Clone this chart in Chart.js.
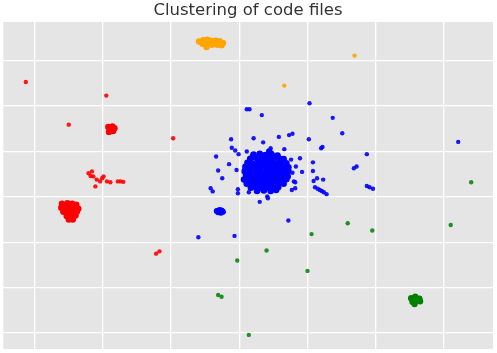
<!DOCTYPE html>
<html>
<head>
<meta charset="utf-8">
<script src="https://cdn.jsdelivr.net/npm/chart.js@4/dist/chart.umd.min.js"></script>
<style>
html,body{margin:0;padding:0;background:#fff;}
#wrap{width:497px;height:353px;}
</style>
</head>
<body>
<div id="wrap"><canvas id="scatter" width="497" height="353"></canvas></div>
<script>
/* ===== DATA (t-SNE style coordinates) ===== */
const titleText = "Clustering of code files";
const gridTicks = [-30,-20,-10,0,10,20,30];

// dense blue core
const blueCore = [
[2.1,9.3],[3.0,9.5],[3.8,9.2],[4.7,9.4],[5.6,9.1],[4.4,10.0],
[1.6,8.4],[2.4,8.6],[3.3,8.3],[4.1,8.5],[4.9,8.2],[5.8,8.5],[6.5,8.3],
[1.2,7.5],[2.0,7.3],[2.8,7.6],[3.6,7.4],[4.4,7.6],[5.2,7.4],[6.0,7.6],[6.9,7.4],
[0.9,6.6],[1.7,6.7],[2.5,6.5],[3.3,6.7],[4.1,6.5],[4.9,6.6],[5.7,6.5],[6.5,6.7],[7.2,6.5],
[0.8,5.6],[1.6,5.5],[2.4,5.7],[3.2,5.5],[4.0,5.6],[4.8,5.7],[5.6,5.5],[6.4,5.6],[7.2,5.7],
[1.0,4.7],[1.8,4.6],[2.6,4.8],[3.4,4.6],[4.2,4.7],[5.0,4.8],[5.8,4.6],[6.6,4.7],[7.1,4.5],
[0.7,3.8],[1.5,3.7],[2.3,3.9],[3.1,3.7],[3.9,3.8],[4.7,3.9],[5.5,3.7],[6.3,3.8],[6.9,3.9],
[1.1,2.9],[1.9,3.0],[2.7,2.8],[3.5,3.0],[4.3,2.9],[5.1,2.8],[5.9,3.0],[6.5,2.9],
[1.7,2.0],[2.5,2.1],[3.3,1.9],[4.1,2.1],[4.9,2.0],[5.7,2.1],
[2.6,1.3],[3.6,1.4],[4.6,1.3],[5.4,1.5],
[2.0,8.9],[3.7,8.9],[5.3,8.8],[1.4,6.1],[3.0,6.1],[4.5,6.1],[6.1,6.1],[6.9,6.0],
[1.2,4.2],[2.9,4.2],[4.6,4.2],[6.2,4.2],[2.2,2.5],[3.9,2.5],[5.4,2.5]
];

// blue points around the core
const blueSpread = [
[1.1,19.3],[1.5,19.3],[3.3,18.0],[-1.2,12.7],[2.1,12.9],[5.8,13.2],[7.3,13.6],[7.8,13.9],
[3.5,12.0],[-1.1,10.8],[-0.6,10.2],[-0.1,9.4],[-3.4,8.9],[1.1,10.0],[4.6,10.7],[6.6,10.5],
[-1.5,7.2],[-3.1,5.8],[-2.5,4.1],[-4.2,1.9],[-3.9,1.2],[-0.2,1.7],[-0.2,0.8],[1.4,1.0],
[4.1,0.1],[4.2,-0.3],[3.0,-1.1],[7.6,8.2],[8.3,6.7],[8.9,8.5],[9.2,5.5],[7.8,5.3],
[8.0,3.4],[8.2,3.2],[8.2,1.9],[7.7,1.5],[-0.4,5.9],[0.9,4.5],
[10.3,20.6],[13.7,17.4],[15.1,14.0],[10.2,12.7],[12.0,10.7],[12.2,11.0],[18.7,9.4],
[10.8,7.6],[16.8,6.3],[17.2,6.7],[10.8,5.7],[11.4,4.1],[10.9,3.5],[12.3,3.8],
[11.1,2.1],[11.5,1.8],[11.8,1.5],[12.1,1.3],[12.4,1.0],[12.8,0.6],
[18.7,2.4],[19.1,2.1],[19.6,1.8],[32.1,12.1],
[7.2,-5.2],[-6.0,-8.9],[-0.7,-8.6]
];

// small solid blue clump below the core
const blueClump = [
[-3.3,-3.1],[-2.9,-2.9],[-2.6,-3.0],[-2.4,-3.3],[-3.1,-3.4],[-2.7,-3.5]
];

const redPoints = [
[-31.3,25.3],[-19.5,22.3],[-25.0,15.9],[-9.7,12.9],
[-22.1,5.2],[-21.6,5.6],[-21.8,4.6],[-21.4,4.5],[-20.9,3.8],[-20.1,4.1],[-19.9,4.5],
[-20.4,3.4],[-19.4,3.4],[-18.9,3.2],[-21.1,2.3],[-17.8,3.4],[-17.4,3.4],[-17.0,3.3],
[-12.2,-12.5],[-11.7,-12.0]
];

// solid red clumps
const redClumps = [
[-19.2,15.4],[-18.6,15.5],[-18.3,15.1],[-18.9,14.7],[-18.5,14.5],[-19.1,14.3],
[-26.0,-1.5],[-25.2,-1.4],[-24.5,-1.5],[-23.9,-1.7],
[-26.1,-2.4],[-25.5,-2.4],[-24.8,-2.4],[-24.0,-2.4],[-23.6,-2.6],
[-25.8,-3.3],[-25.1,-3.3],[-24.3,-3.3],[-23.8,-3.2],
[-25.3,-4.2],[-24.6,-4.2],[-24.0,-4.1],
[-25.0,-5.0],[-24.4,-5.0],
[-25.6,-1.9],[-24.2,-1.9],[-25.0,-2.9],[-24.0,-2.9],[-24.9,-3.8],[-24.7,-4.6]
];

const orangeClump = [
[-5.9,34.2],[-5.3,34.5],[-4.7,34.6],[-4.1,34.4],[-3.5,34.4],[-2.9,34.3],[-2.4,33.9],
[-5.4,33.7],[-4.7,33.6],[-4.0,33.5],[-3.2,33.5],[-2.6,33.4],[-4.8,33.0],
[-4.4,34.0],[-3.2,34.0]
];
const orangePoints = [[16.9,31.1],[6.6,24.5]];

const greenPoints = [
[15.9,-5.8],[19.5,-7.4],[31.0,-6.2],[10.6,-8.2],[4.0,-11.8],[-0.3,-14.0],[10.0,-16.3],
[-3.1,-21.6],[-2.6,-22.0],[1.4,-30.4],[34.0,3.2]
];
const greenClump = [
[25.2,-22.3],[25.8,-22.0],[26.4,-22.4],[25.4,-23.1],[26.0,-22.9],[26.5,-23.0],[25.7,-23.6],
[25.9,-22.5]
];

const toXY = arr => arr.map(p => ({x:p[0], y:p[1]}));

/* ===== PLUGINS ===== */
const panelBg = {
  id:"panelBg",
  beforeDraw(chart){
    const {ctx, chartArea:a} = chart;
    ctx.save();
    ctx.fillStyle = "#e5e5e5";
    ctx.fillRect(a.left, a.top, a.right - a.left, a.bottom - a.top);
    ctx.restore();
  }
};

const axisCommon = {
  type:"linear",
  grid:{color:"#ffffff", lineWidth:1.3, drawTicks:false, tickLength:0},
  border:{display:false},
  ticks:{display:false},
  afterBuildTicks(scale){
    scale.ticks = gridTicks.map(v => ({value:v}));
  }
};

function series(data, color, r){
  return {
    data: toXY(data),
    backgroundColor: color,
    borderWidth: 0,
    pointRadius: r,
    pointHoverRadius: r
  };
}

const RED = "rgba(255,0,0,0.9)", ORANGE = "rgba(255,165,0,0.92)",
      GREEN = "rgba(0,128,0,0.85)", BLUE = "rgba(0,0,255,0.9)";

new Chart(document.getElementById("scatter"), {
  type:"scatter",
  data:{
    datasets:[
      series(redPoints, RED, 2.2),
      series(redClumps, "#ff0000", 3.2),
      series(orangePoints, ORANGE, 2.2),
      series(orangeClump, "#ffa500", 3.2),
      series(greenPoints, GREEN, 2.2),
      series(greenClump, "#008000", 3.2),
      series(blueSpread, BLUE, 2.2),
      series(blueClump, "#0000ff", 3.0),
      series(blueCore, "#0000ff", 3.3)
    ]
  },
  options:{
    responsive:false,
    devicePixelRatio:1,
    animation:false,
    events:[],
    layout:{padding:{left:3, right:4, top:0, bottom:4}},
    plugins:{
      legend:{display:false},
      tooltip:{enabled:false},
      title:{
        display:true,
        text:titleText,
        color:"#333333",
        font:{family:"'DejaVu Sans', sans-serif", size:16.5, weight:"normal", lineHeight:1.1},
        padding:{top:2, bottom:1.85}
      }
    },
    scales:{
      x:Object.assign({min:-34.6, max:37.2}, axisCommon),
      y:Object.assign({min:-33.5, max:38.5}, axisCommon)
    }
  },
  plugins:[panelBg]
});
</script>
</body>
</html>
